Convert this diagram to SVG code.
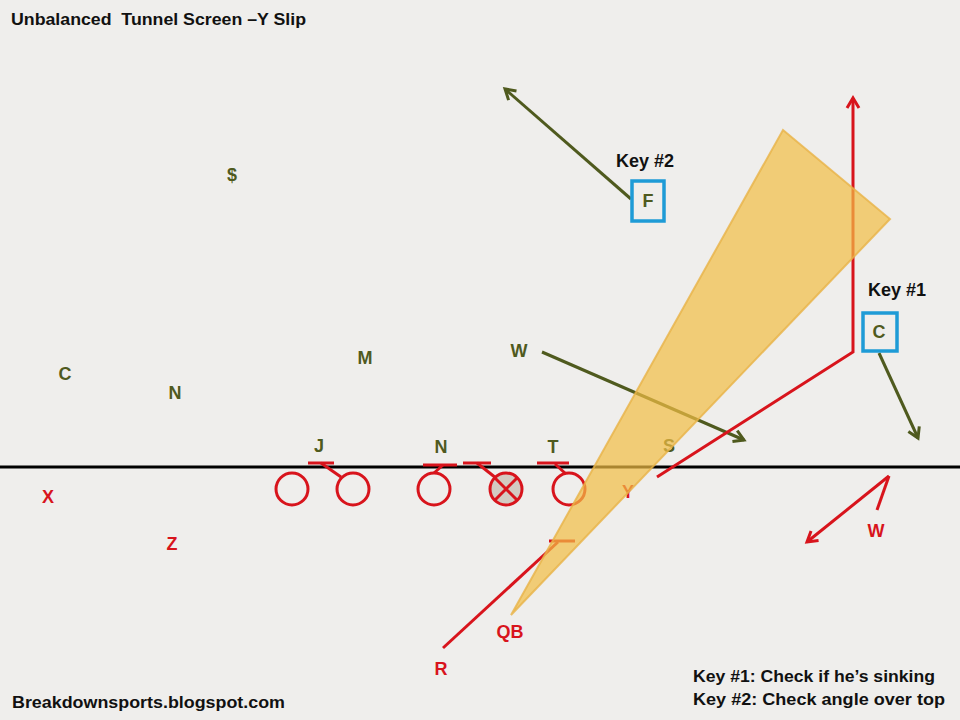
<svg xmlns="http://www.w3.org/2000/svg" width="960" height="720" viewBox="0 0 960 720">
<defs>
<style>
text{font-family:"Liberation Sans",Arial,sans-serif;font-weight:bold;}
.lbl{font-size:18px;text-anchor:middle;}
.def{fill:#4f5a1e;}
.off{fill:#d8141c;}
.blk{fill:#111;}
.ol{fill:none;stroke:#d8141c;stroke-width:3;}
.orl{fill:none;stroke:#4f5a1e;stroke-width:3;}
.rdl{fill:none;stroke:#d8141c;stroke-width:3;}
.key{fill:none;stroke:#1e9bd6;stroke-width:3.5;}
</style>
<marker id="ao" viewBox="0 0 16 16" refX="13" refY="8" markerWidth="16" markerHeight="16" orient="auto" markerUnits="userSpaceOnUse">
<path d="M3,2 L13,8 L3,14" fill="none" stroke="#4f5a1e" stroke-width="3"/>
</marker>
<marker id="ar" viewBox="0 0 16 16" refX="13" refY="8" markerWidth="16" markerHeight="16" orient="auto" markerUnits="userSpaceOnUse">
<path d="M3,2 L13,8 L3,14" fill="none" stroke="#d8141c" stroke-width="3"/>
</marker>
</defs>
<rect width="960" height="720" fill="#efeeec"/>
<text x="11" y="25" font-size="16.5" class="blk" textLength="295" lengthAdjust="spacingAndGlyphs">Unbalanced&#160; Tunnel Screen –Y Slip</text>
<line id="los" x1="0" y1="467" x2="960" y2="467" stroke="#000" stroke-width="3"/>
<g id="connectors">
<line class="orl" x1="631" y1="199" x2="505" y2="89" marker-end="url(#ao)"/>
<line class="orl" x1="542" y1="352" x2="744" y2="440" marker-end="url(#ao)"/>
<line class="orl" x1="879" y1="353" x2="918" y2="438" marker-end="url(#ao)"/>
<polyline class="rdl" points="657,477 853,352 853,98" marker-end="url(#ar)"/>
<line class="rdl" x1="877" y1="510" x2="889" y2="476"/>
<line class="rdl" x1="889" y1="476" x2="807" y2="542" marker-end="url(#ar)"/>
<line class="rdl" x1="443" y1="648" x2="558" y2="542"/>
<line class="rdl" x1="549" y1="541" x2="575" y2="541"/>
<line class="rdl" x1="308" y1="463" x2="334" y2="463"/>
<line class="rdl" x1="321" y1="463" x2="341" y2="477"/>
<line class="rdl" x1="423" y1="465" x2="457" y2="465"/>
<line class="rdl" x1="443" y1="465" x2="434" y2="473"/>
<line class="rdl" x1="463" y1="463" x2="491" y2="463"/>
<line class="rdl" x1="477" y1="463" x2="496" y2="478"/>
<line class="rdl" x1="537" y1="463" x2="569" y2="463"/>
<line class="rdl" x1="555" y1="464" x2="566" y2="474"/>
</g>
<g id="ol1"><circle class="ol" cx="292" cy="489" r="16"/></g>
<g id="ol2"><circle class="ol" cx="353" cy="489" r="16"/></g>
<g id="ol3"><circle class="ol" cx="434" cy="489" r="16"/></g>
<g id="center"><circle cx="506" cy="489" r="16" fill="#d3cbc2" stroke="#d8141c" stroke-width="3"/><path d="M495,478 L517,500 M517,478 L495,500" class="ol"/></g>
<g id="ol5"><circle class="ol" cx="569" cy="489" r="16"/></g>
<g id="d-dollar"><text class="lbl def" x="232" y="181">$</text></g>
<g id="d-c"><text class="lbl def" x="65" y="380">C</text></g>
<g id="d-n"><text class="lbl def" x="175" y="399">N</text></g>
<g id="d-m"><text class="lbl def" x="365" y="364">M</text></g>
<g id="d-j"><text class="lbl def" x="319" y="452">J</text></g>
<g id="d-n2"><text class="lbl def" x="441" y="453">N</text></g>
<g id="d-t"><text class="lbl def" x="553" y="453">T</text></g>
<g id="d-w"><text class="lbl def" x="519" y="357">W</text></g>
<g id="d-s"><text class="lbl def" x="669" y="452">S</text></g>
<g id="key2"><text class="lbl blk" x="645" y="167" font-size="17">Key #2</text><rect class="key" x="632" y="181" width="32" height="40"/><text class="lbl def" x="648" y="207">F</text></g>
<g id="key1"><text class="lbl blk" x="897" y="296" font-size="17">Key #1</text><rect class="key" x="863" y="313" width="34" height="38"/><text class="lbl def" x="879" y="338">C</text></g>
<g id="o-x"><text class="lbl off" x="48" y="503">X</text></g>
<g id="o-z"><text class="lbl off" x="172" y="550">Z</text></g>
<g id="o-y"><text class="lbl off" x="628" y="498">Y</text></g>
<g id="o-qb"><text class="lbl off" x="510" y="638">QB</text></g>
<g id="o-r"><text class="lbl off" x="441" y="675">R</text></g>
<g id="o-w"><text class="lbl off" x="876" y="537">W</text></g>
<g id="cone"><polygon points="511,615 783,130 890,219" fill="#f2bd45" fill-opacity="0.7" stroke="#e9b347" stroke-width="2" stroke-opacity="0.8"/></g>
<text x="693" y="682" font-size="17" class="blk" textLength="242" lengthAdjust="spacingAndGlyphs">Key #1: Check if he’s sinking</text>
<text x="693" y="705" font-size="17" class="blk" textLength="252" lengthAdjust="spacingAndGlyphs">Key #2: Check angle over top</text>
<text x="12" y="708" font-size="17" class="blk" textLength="273" lengthAdjust="spacingAndGlyphs">Breakdownsports.blogspot.com</text>
</svg>
